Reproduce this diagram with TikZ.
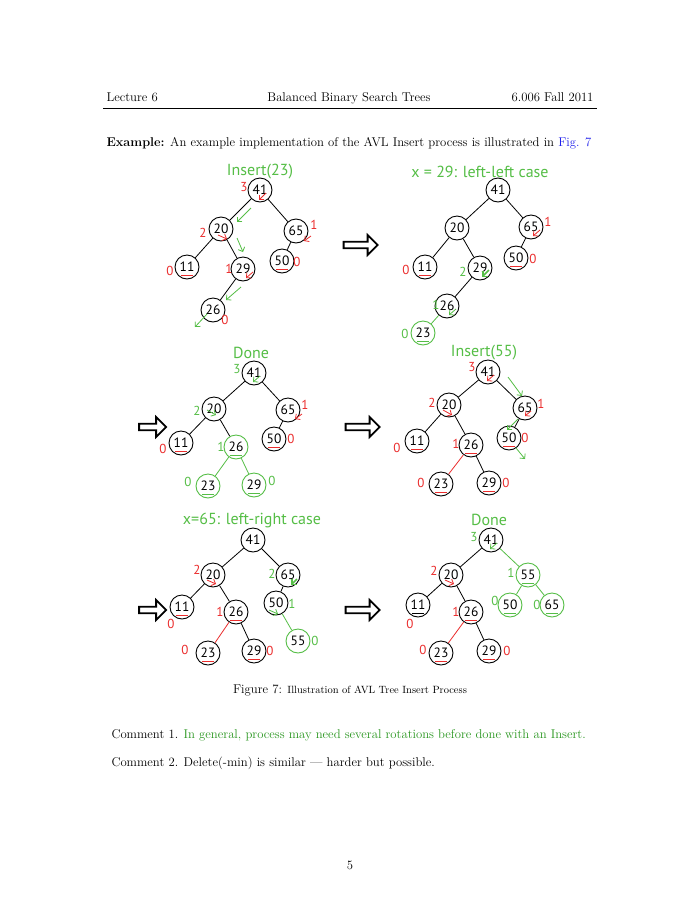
\documentclass[tikz,border=0pt]{standalone}
\usepackage{fontspec}
\newfontfamily\nf{PT Sans}
\usetikzlibrary{shapes.arrows,arrows.meta}
\definecolor{gr}{RGB}{85,190,70}
\definecolor{rd}{RGB}{235,45,45}
\definecolor{lk}{RGB}{30,30,235}
\definecolor{cg}{RGB}{40,150,30}
\tikzset{
 tn/.style={circle,draw,line width=0.9pt,minimum size=24pt,inner sep=0pt,font=\nf\fontsize{13.5}{13.5}\selectfont},
 gn/.style={tn,draw=gr},
 ed/.style={line width=0.8pt},
 ged/.style={ed,draw=gr},
 red/.style={ed,draw=rd},
 lb/.style={font=\nf\fontsize{13}{13}\selectfont},
 rl/.style={lb,text=rd},
 gl/.style={lb,text=gr},
 ttl/.style={font=\nf\fontsize{16}{16}\selectfont,text=gr},
 ga/.style={draw=gr,line width=0.8pt,-{Straight Barb[length=3.5pt]}},
 ra/.style={draw=rd,line width=0.8pt,-{Straight Barb[length=3.5pt]}},
 big/.style={single arrow,draw,line width=1.8pt,fill=white,minimum height=34pt,minimum width=20pt,single arrow head extend=4pt,inner sep=1pt},
 bigs/.style={big,minimum height=27pt},
 bt/.style={font=\fontsize{12.7}{15}\selectfont}
}
\newcommand{\uln}[2]{\draw[#2,line width=0.8pt] ([xshift=-6pt,yshift=-8pt]#1.center) -- ([xshift=6pt,yshift=-8pt]#1.center);}
\begin{document}
\begin{tikzpicture}[x=1pt,y=-1pt]
\useasboundingbox[fill=white] (0,0) rectangle (700,906);
% header
\node[bt,anchor=base west] (h1) at (103,101) {Lecture 6};
\node[bt,anchor=base] (h2) at (349,101) {Balanced Binary Search Trees};
\node[bt,anchor=base east] (h3) at (597,101) {6.006 Fall 2011};
\draw[line width=0.45pt] (103,108) -- (597,108);
\node[bt,anchor=base west] (ex) at (103,146) {\textbf{Example:} An example implementation of the AVL Insert process is illustrated in \textcolor{lk}{Fig. 7}};
% ---------- tree 1
\node[ttl] (t1) at (260,172) {Insert(23)};
\node[tn] (a41) at (260,190) {41};
\node[tn] (a20) at (221,229) {20};
\node[tn] (a65) at (296,231) {65};
\node[tn] (a11) at (187,267) {11};
\node[tn] (a29) at (243,269) {29};
\node[tn] (a50) at (282,261) {50};
\node[tn] (a26) at (213,310) {26};
\draw[ed] (a41)--(a20); \draw[ed] (a41)--(a65); \draw[ed] (a20)--(a11); \draw[ed] (a20)--(a29); \draw[ed] (a65)--(a50); \draw[ed] (a29)--(a26);
\node[rl] at (244,187) {3}; \node[rl] at (203,233) {2}; \node[rl] at (314,225) {1};
\node[rl] at (170,271) {0}; \node[rl] at (229,269) {1}; \node[rl] at (297,262) {0}; \node[rl] at (225,320) {0};
\uln{a11}{rd}\uln{a50}{rd}
\draw[ga] (251,208) -- (237,222); \draw[ga] (237,238) -- (243,252); \draw[ga] (241,287) -- (226,300); \draw[ga] (207,314) -- (195,327);
\draw[ra] (266,193) -- (259,200); \draw[ra] (218,235) -- (227,239); \draw[ra] (253,272) -- (246,278); \draw[ra] (311,236) -- (304,241);
\node[big] (b1) at (359,245) {};
% ---------- tree 2
\node[ttl] (t2) at (480,172) {x = 29: left-left case};
\node[tn] (b41) at (498,190) {41};
\node[tn] (b20) at (457,228) {20};
\node[tn] (b65) at (531,227) {65};
\node[tn] (b11) at (425,267) {11};
\node[tn] (b29) at (480,268) {29};
\node[tn] (b50) at (516,258) {50};
\node[tn] (b26) at (447,306) {26};
\node[gn] (b23) at (423,333) {23};
\draw[ed] (b41)--(b20); \draw[ed] (b41)--(b65); \draw[ed] (b20)--(b11); \draw[ed] (b20)--(b29); \draw[ed] (b65)--(b50); \draw[ed] (b29)--(b26); \draw[ged] (b26)--(b23);
\node[rl] at (548,222) {1}; \node[rl] at (406,270) {0}; \node[rl] at (533,259) {0};
\node[gl] at (463,272) {2}; \node[gl] at (436,305) {1}; \node[gl] at (405,334) {0};
\uln{b11}{rd}\uln{b50}{rd}\uln{b23}{gr}
\draw[ra] (540,230) -- (533,236); \draw[ga,line width=1.5pt] (489,270) -- (482,277); \draw[ga] (456,309) -- (449,315);
% ---------- tree 3
\node[bigs] (b2) at (151,427) {};
\node[ttl] (t3) at (251,353) {Done};
\node[tn] (c41) at (254,373) {41};
\node[tn] (c20) at (214,409) {20};
\node[tn] (c65) at (288,410) {65};
\node[tn] (c11) at (181,443) {11};
\node[tn] (c50) at (274,439) {50};
\node[gn] (c26) at (236,447) {26};
\node[gn] (c23) at (208,486) {23};
\node[gn] (c29) at (254,485) {29};
\draw[ed] (c41)--(c20); \draw[ed] (c41)--(c65); \draw[ed] (c20)--(c11); \draw[ed] (c20)--(c26); \draw[ed] (c65)--(c50); \draw[ged] (c26)--(c23); \draw[ged] (c26)--(c29);
\node[gl] at (237,369) {3}; \node[gl] at (197,411) {2}; \node[rl] at (305,405) {1}; \node[rl] at (163,449) {0};
\node[rl] at (291,439) {0}; \node[gl] at (221,447) {1}; \node[gl] at (188,482) {0}; \node[gl] at (272,481) {0};
\uln{c11}{rd}\uln{c50}{rd}\uln{c23}{gr}\uln{c29}{gr}\uln{c26}{gr}
\draw[ga] (260,376) -- (253,382); \draw[ga] (207,410) -- (216,415); \draw[ra] (302,414) -- (295,419);
\node[big] (b3) at (361,427) {};
% ---------- tree 4
\node[ttl] (t4) at (484,353) {Insert(55)};
\node[tn] (d41) at (488,372) {41};
\node[tn] (d20) at (449,405) {20};
\node[tn] (d65) at (525,408) {65};
\node[tn] (d11) at (417,441) {11};
\node[tn] (d26) at (471,445) {26};
\node[tn] (d50) at (509,438) {50};
\node[tn] (d23) at (441,484) {23};
\node[tn] (d29) at (489,483) {29};
\draw[ed] (d41)--(d20); \draw[ed] (d41)--(d65); \draw[ed] (d20)--(d11); \draw[ed] (d20)--(d26); \draw[ed] (d65)--(d50); \draw[red] (d26)--(d23); \draw[ed] (d26)--(d29);
\node[rl] at (472,367) {3}; \node[rl] at (432,403) {2}; \node[rl] at (541,404) {1}; \node[rl] at (397,448) {0};
\node[rl] at (456,444) {1}; \node[rl] at (525,438) {0}; \node[rl] at (421,483) {0}; \node[rl] at (506,483) {0};
\uln{d11}{rd}\uln{d50}{rd}\uln{d23}{rd}\uln{d29}{rd}\uln{d26}{rd}
\draw[ga] (508,377) -- (522,396); \draw[ga] (518,419) -- (507,430); \draw[ga] (516,448) -- (525,459);
\draw[ra] (494,375) -- (487,381); \draw[ra] (443,410) -- (452,415); \draw[ra] (531,411) -- (525,416);
% ---------- tree 5
\node[bigs] (b4) at (151,610) {};
\node[ttl] (t5) at (252,520) {x=65: left-right case};
\node[tn] (e41) at (253,540) {41};
\node[tn] (e20) at (213,575) {20};
\node[tn] (e65) at (288,575) {65};
\node[tn] (e11) at (182,607) {11};
\node[tn] (e50) at (276,603) {50};
\node[tn] (e26) at (236,612) {26};
\node[gn] (e55) at (298,641) {55};
\node[tn] (e23) at (208,653) {23};
\node[tn] (e29) at (254,651) {29};
\draw[ed] (e41)--(e20); \draw[ed] (e41)--(e65); \draw[ed] (e20)--(e11); \draw[ed] (e20)--(e26); \draw[ed] (e65)--(e50); \draw[ged] (e50)--(e55); \draw[red] (e26)--(e23); \draw[ed] (e26)--(e29);
\node[rl] at (197,570) {2}; \node[gl] at (272,574) {2}; \node[gl] at (292,604) {1}; \node[rl] at (171,624) {0};
\node[rl] at (220,612) {1}; \node[rl] at (185,650) {0}; \node[rl] at (270,651) {0}; \node[gl] at (315,641) {0};
\uln{e11}{rd}\uln{e26}{rd}\uln{e23}{rd}\uln{e29}{rd}
\draw[ra] (207,580) -- (216,584); \draw[ga,line width=1.5pt] (297,579) -- (291,585); \draw[ga] (269,610) -- (278,614);
\node[big] (b5) at (361,610) {};
% ---------- tree 6
\node[ttl] (t6) at (489,520) {Done};
\node[tn] (f41) at (491,540) {41};
\node[tn] (f20) at (451,575) {20};
\node[gn] (f55) at (528,575) {55};
\node[tn] (f11) at (418,605) {11};
\node[tn] (f26) at (471,612) {26};
\node[gn] (f50) at (510,605) {50};
\node[gn] (f65) at (552,605) {65};
\node[tn] (f23) at (441,653) {23};
\node[tn] (f29) at (489,651) {29};
\draw[ed] (f41)--(f20); \draw[ged] (f41)--(f55); \draw[ed] (f20)--(f11); \draw[ed] (f20)--(f26); \draw[ged] (f55)--(f50); \draw[ged] (f55)--(f65); \draw[red] (f26)--(f23); \draw[ed] (f26)--(f29);
\node[gl] at (474,537) {3}; \node[rl] at (434,571) {2}; \node[gl] at (511,573) {1}; \node[gl] at (495,601) {0};
\node[gl] at (537,605) {0}; \node[rl] at (410,624) {0}; \node[rl] at (456,612) {1}; \node[rl] at (423,650) {0}; \node[rl] at (507,651) {0};
\uln{f11}{black}\uln{f26}{rd}\uln{f23}{rd}\uln{f29}{rd}\uln{f55}{gr}\uln{f50}{gr}\uln{f65}{gr}
\draw[ga] (497,543) -- (490,549); \draw[ra] (445,580) -- (454,584);
% caption & comments
\node[bt,anchor=base] (cap) at (350,693) {Figure 7: {\fontsize{10.5}{12}\selectfont Illustration of AVL Tree Insert Process}};
\node[bt,anchor=base west] (c1) at (108,738) {Comment 1. \textcolor{cg}{In general, process may need several rotations before done with an Insert.}};
\node[bt,anchor=base west] (c2) at (108,766) {Comment 2. Delete(-min) is similar --- harder but possible.};
\node[bt,anchor=base] (pn) at (350,869) {5};
\end{tikzpicture}
\end{document}
